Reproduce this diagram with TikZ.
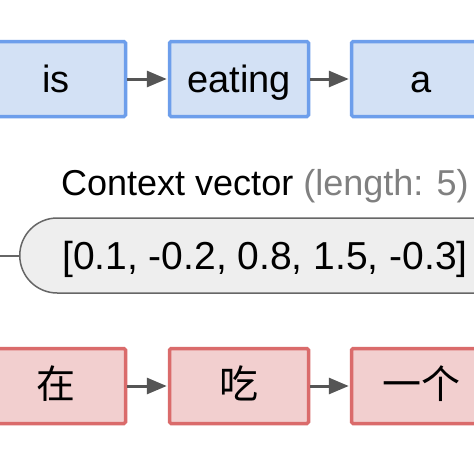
\documentclass[tikz,border=0pt]{standalone}
\usepackage{fontspec}
\setmainfont{Liberation Sans}
\newfontfamily\cjk{Noto Sans CJK SC}
\usetikzlibrary{arrows.meta,shapes.misc}
\definecolor{bluefill}{HTML}{D3E1F5}
\definecolor{blueline}{HTML}{6D9EEB}
\definecolor{redfill}{HTML}{F2CFCF}
\definecolor{redline}{HTML}{DA6B6B}
\definecolor{arrowgray}{HTML}{555555}
\definecolor{vecfill}{HTML}{EEEEEE}
\definecolor{vecline}{HTML}{666666}
\definecolor{labelgray}{HTML}{808080}
\tikzset{
  wordbox/.style={rectangle, rounded corners=1.5pt, line width=3.5pt, minimum width=139pt, minimum height=75pt, inner sep=0pt},
  enc/.style={wordbox, draw=blueline, fill=bluefill, font=\fontsize{38}{40}\selectfont, text height=27pt, text depth=0pt},
  dec/.style={wordbox, draw=redline, fill=redfill, font=\fontsize{39}{40}\selectfont\cjk, text height=24pt, text depth=0pt},
  flow/.style={draw=arrowgray, line width=3pt, -{Triangle[length=20pt,width=16pt]}, shorten >=1pt},
  vecbox/.style={rounded rectangle, rounded rectangle right arc=none, draw=vecline, fill=vecfill, line width=1.5pt, minimum height=75pt, minimum width=480pt, inner sep=0pt},
  link/.style={draw=vecline, line width=2pt},
}
\begin{document}
\begin{tikzpicture}[x=1pt,y=-1pt]
\useasboundingbox (0,0) rectangle (474,474);
\fill[white] (0,0) rectangle (474,474);
% encoder row
\node[enc] (e1) at (56,79) {is};
\node[enc] (e2) at (239,79) {eating};
\node[enc] (e3) at (421,79) {a};
\draw[flow] (e1) -- (e2);
\draw[flow] (e2) -- (e3);
% context vector
\node[anchor=base west, inner sep=0pt, font=\fontsize{36}{40}\selectfont] (lab) at (61,195) {Context vector \textcolor{labelgray}{(length: 5)}};
\node[vecbox, anchor=west] (vec) at (19,255.5) {};
\node[anchor=base west, inner sep=0pt, font=\fontsize{39}{40}\selectfont] (vtxt) at (62,269) {[0.1, -0.2, 0.8, 1.5, -0.3]};
\coordinate (src) at (-5,255.5);
\draw[link] (src) -- (vec.west);
% decoder row
\node[dec] (d1) at (56,386) {在};
\node[dec] (d2) at (239,386) {吃};
\node[dec] (d3) at (421,386) {一个};
\draw[flow] (d1) -- (d2);
\draw[flow] (d2) -- (d3);
\end{tikzpicture}
\end{document}
